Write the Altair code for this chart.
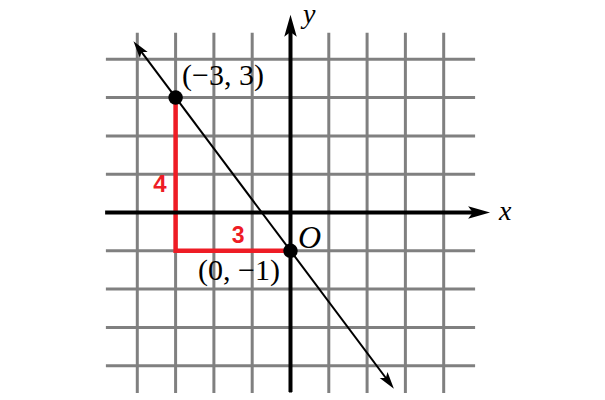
import math
import altair as alt
import pandas as pd

# ---- data ----
grid_ticks = [-4, -3, -2, -1, 0, 1, 2, 3, 4]
grid_x_extent = [-4.82, 4.82]
grid_y_extent = [-4.71, 4.69]
x_axis_extent = [-4.84, 5.21]
y_axis_extent = [-4.69, 5.16]
line_x = [-4.1, 2.7]
line_y = [4.47, -4.6]
point_x = [-3, 0]
point_y = [3, -1]
point_labels = ["(−3, 3)", "(0, −1)"]
rise_run_x = [-3, -3, 0]
rise_run_y = [3, -1, -1]
rise_label = "4"
run_label = "3"
axis_names = ["x", "y"]
origin_label = "O"

RED = "#ee1c25"
GRID = "#808080"
SERIF = "Liberation Serif"
SANS = "Liberation Sans"
ARROW = "M0,0L-0.4,1.4L0,1.1L0.4,1.4Z"

XS = alt.Scale(domain=[-7.376, 8.003], nice=False, zero=False)
YS = alt.Scale(domain=[-4.713, 5.339], nice=False, zero=False)


def X(f="x"):
    return alt.X(f"{f}:Q", scale=XS, axis=None)


def Y(f="y"):
    return alt.Y(f"{f}:Q", scale=YS, axis=None)


# grid
vgrid = alt.Chart(pd.DataFrame({"x": grid_ticks, "y": grid_y_extent[0], "y2": grid_y_extent[1]})).mark_rule(
    color=GRID, strokeWidth=3).encode(x=X(), y=Y(), y2=alt.Y2("y2:Q"))
hgrid = alt.Chart(pd.DataFrame({"y": grid_ticks, "x": grid_x_extent[0], "x2": grid_x_extent[1]})).mark_rule(
    color=GRID, strokeWidth=3).encode(y=Y(), x=X(), x2=alt.X2("x2:Q"))

# red rise/run
red = alt.Chart(pd.DataFrame({"x": rise_run_x, "y": rise_run_y, "i": list(range(len(rise_run_x)))})).mark_line(
    color=RED, strokeWidth=4.5, strokeJoin="miter").encode(x=X(), y=Y(), order="i:O")

# axes
xaxis = alt.Chart(pd.DataFrame({"x": [x_axis_extent[0]], "x2": [x_axis_extent[1] - 0.35], "y": [0]})).mark_rule(
    color="black", strokeWidth=4).encode(x=X(), x2=alt.X2("x2:Q"), y=Y())
yaxis = alt.Chart(pd.DataFrame({"y": [y_axis_extent[0]], "y2": [y_axis_extent[1] - 0.35], "x": [0]})).mark_rule(
    color="black", strokeWidth=4).encode(y=Y(), y2=alt.Y2("y2:Q"), x=X())
axis_arrows = alt.Chart(pd.DataFrame({"x": [x_axis_extent[1], 0], "y": [0, y_axis_extent[1]], "angle": [90, 0]})).mark_point(
    shape=ARROW, filled=True, color="black", opacity=1, size=980, strokeWidth=0).encode(
    x=X(), y=Y(), angle=alt.Angle("angle:Q", scale=None))

# diagonal line
du, dv = line_x[1] - line_x[0], line_y[1] - line_y[0]
L = math.hypot(du, dv)
trim = 0.25
inner_x = [line_x[0] + du / L * trim, line_x[1] - du / L * trim]
inner_y = [line_y[0] + dv / L * trim, line_y[1] - dv / L * trim]
diag = alt.Chart(pd.DataFrame({"x": inner_x, "y": inner_y})).mark_line(
    color="black", strokeWidth=2).encode(x=X(), y=Y())
ang_end = math.degrees(math.atan2(du, dv)) % 360
ang_start = math.degrees(math.atan2(-du, -dv)) % 360
diag_arrows = alt.Chart(pd.DataFrame({"x": [line_x[0], line_x[1]], "y": [line_y[0], line_y[1]],
                                      "angle": [ang_start, ang_end]})).mark_point(
    shape=ARROW, filled=True, color="black", opacity=1, size=600, strokeWidth=0).encode(
    x=X(), y=Y(), angle=alt.Angle("angle:Q", scale=None))

# points
pts = alt.Chart(pd.DataFrame({"x": point_x, "y": point_y})).mark_point(
    shape="circle", filled=True, color="black", opacity=1, size=210).encode(x=X(), y=Y())

# labels
lbl1 = alt.Chart(pd.DataFrame({"x": [point_x[0]], "y": [point_y[0]], "t": [point_labels[0]]})).mark_text(
    font=SERIF, fontSize=30, align="left", baseline="alphabetic", dx=6.4, dy=-12.6, color="black").encode(
    x=X(), y=Y(), text="t:N")
lbl2 = alt.Chart(pd.DataFrame({"x": [point_x[1]], "y": [point_y[1]], "t": [point_labels[1]]})).mark_text(
    font=SERIF, fontSize=30, align="right", baseline="alphabetic", dx=-10.5, dy=29, color="black").encode(
    x=X(), y=Y(), text="t:N")
lblO = alt.Chart(pd.DataFrame({"x": [0], "y": [point_y[1]], "t": [origin_label]})).mark_text(
    font=SERIF, fontSize=32, fontStyle="italic", align="left", baseline="alphabetic", dx=7.5, dy=-2.8,
    color="black").encode(x=X(), y=Y(), text="t:N")
lblx = alt.Chart(pd.DataFrame({"x": [x_axis_extent[1]], "y": [0], "t": [axis_names[0]]})).mark_text(
    font=SERIF, fontSize=28, fontStyle="italic", align="left", baseline="alphabetic", dx=9, dy=7.5,
    color="black").encode(x=X(), y=Y(), text="t:N")
lbly = alt.Chart(pd.DataFrame({"x": [0], "y": [y_axis_extent[1]], "t": [axis_names[1]]})).mark_text(
    font=SERIF, fontSize=28, fontStyle="italic", align="left", baseline="alphabetic", dx=12.5, dy=8,
    color="black").encode(x=X(), y=Y(), text="t:N")
lbl4 = alt.Chart(pd.DataFrame({"x": [rise_run_x[0]], "y": [(rise_run_y[0] + rise_run_y[1]) / 2], "t": [rise_label]})).mark_text(
    font=SANS, fontSize=24, fontWeight="bold", align="center", baseline="alphabetic", dx=-15.6, dy=17.5,
    color=RED).encode(x=X(), y=Y(), text="t:N")
lbl3 = alt.Chart(pd.DataFrame({"x": [(rise_run_x[1] + rise_run_x[2]) / 2], "y": [rise_run_y[2]], "t": [run_label]})).mark_text(
    font=SANS, fontSize=23, fontWeight="bold", align="center", baseline="alphabetic", dx=5, dy=-7.5,
    color=RED).encode(x=X(), y=Y(), text="t:N")

chart = alt.layer(
    vgrid, hgrid, red, xaxis, yaxis, axis_arrows, diag, diag_arrows, pts,
    lbl1, lbl2, lblO, lblx, lbly, lbl4, lbl3
).properties(
    width=589, height=385, padding=0, background="white",
    autosize=alt.AutoSizeParams(type="none")
).configure_view(strokeWidth=0)

chart.save("out.html", embed_options={"renderer": "svg", "actions": False})
